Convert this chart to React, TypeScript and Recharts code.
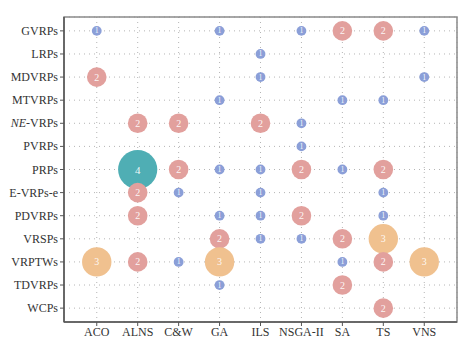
import React from "react";
import {
  ScatterChart,
  Scatter,
  XAxis,
  YAxis,
  CartesianGrid,
  ReferenceArea,
} from "recharts";

const methods = ["ACO", "ALNS", "C&W", "GA", "ILS", "NSGA-II", "SA", "TS", "VNS"];
const problems = [
  "GVRPs",
  "LRPs",
  "MDVRPs",
  "MTVRPs",
  "NE-VRPs",
  "PVRPs",
  "PRPs",
  "E-VRPs-e",
  "PDVRPs",
  "VRSPs",
  "VRPTWs",
  "TDVRPs",
  "WCPs",
];

// counts per problem row, per method column (0 = no bubble)
const GVRPs = [1, 0, 0, 1, 0, 1, 2, 2, 1];
const LRPs = [0, 0, 0, 0, 1, 0, 0, 0, 0];
const MDVRPs = [2, 0, 0, 0, 1, 0, 0, 0, 1];
const MTVRPs = [0, 0, 0, 1, 0, 0, 1, 1, 0];
const NEVRPs = [0, 2, 2, 0, 2, 1, 0, 0, 0];
const PVRPs = [0, 0, 0, 0, 0, 1, 0, 0, 0];
const PRPs = [0, 4, 2, 1, 1, 2, 1, 2, 0];
const EVRPse = [0, 2, 1, 0, 1, 0, 0, 1, 0];
const PDVRPs = [0, 2, 0, 1, 1, 2, 0, 1, 0];
const VRSPs = [0, 0, 0, 2, 1, 1, 2, 3, 0];
const VRPTWs = [3, 2, 1, 3, 0, 0, 1, 2, 3];
const TDVRPs = [0, 0, 0, 1, 0, 0, 2, 0, 0];
const WCPs = [0, 0, 0, 0, 0, 0, 0, 2, 0];

const rows = [GVRPs, LRPs, MDVRPs, MTVRPs, NEVRPs, PVRPs, PRPs, EVRPse, PDVRPs, VRSPs, VRPTWs, TDVRPs, WCPs];

const colorFor: Record<number, string> = {
  1: "#8b9fd8",
  2: "#e2a09d",
  3: "#f0c18f",
  4: "#4faeb4",
};

const points: { x: number; y: number; v: number }[] = [];
rows.forEach((row, ri) => {
  row.forEach((v, ci) => {
    if (v > 0) points.push({ x: ci + 1, y: ri + 1, v });
  });
});

const SERIF = "'Liberation Serif', 'DejaVu Serif', serif";

const Bubble = (props: any) => {
  const { cx, cy, payload } = props;
  if (cx == null || cy == null) return null;
  const v = payload.v as number;
  const r = v * 4.9;
  const fs = v === 1 ? 8 : v === 4 ? 11 : 10;
  return (
    <g>
      <circle cx={cx} cy={cy} r={r} fill={colorFor[v]} />
      <text
        x={cx}
        y={cy}
        textAnchor="middle"
        dominantBaseline="central"
        fontFamily={SERIF}
        fontSize={fs}
        fill="#ffffff"
        fillOpacity={0.92}
      >
        {v}
      </text>
    </g>
  );
};

const YTick = (props: any) => {
  const { x, y, payload } = props;
  const label = problems[payload.value - 1] ?? "";
  const italic = label.startsWith("NE-");
  return (
    <text
      x={x}
      y={y}
      textAnchor="end"
      dominantBaseline="central"
      fontFamily={SERIF}
      fontSize={12}
      fill="#333"
    >
      {italic ? (
        <>
          <tspan fontStyle="italic">NE</tspan>
          <tspan>{label.slice(2)}</tspan>
        </>
      ) : (
        label
      )}
    </text>
  );
};

const XTick = (props: any) => {
  const { x, y, payload } = props;
  const label = methods[payload.value - 1] ?? "";
  return (
    <text
      x={x}
      y={y + 8}
      textAnchor="middle"
      fontFamily={SERIF}
      fontSize={12}
      fill="#333"
    >
      {label}
    </text>
  );
};

export default function App() {
  return (
    <div style={{ position: "absolute", left: 0, top: 0, background: "#fff" }}>
      <ScatterChart
        width={474}
        height={352}
        margin={{ top: 17, right: 17, left: 0, bottom: 0 }}
      >
        <CartesianGrid stroke="#b5b5b5" strokeDasharray="1 4" />
        <ReferenceArea
          x1={0.2}
          x2={9.8}
          y1={0.4}
          y2={13.6}
          fill="none"
          stroke="#8a8a8a"
          strokeWidth={1.5}
          ifOverflow="visible"
        />
        <XAxis
          type="number"
          dataKey="x"
          domain={[0.2, 9.8]}
          ticks={[1, 2, 3, 4, 5, 6, 7, 8, 9]}
          allowDataOverflow
          height={30}
          tickSize={4}
          tickLine={{ stroke: "#555" }}
          axisLine={{ stroke: "#555", strokeWidth: 1.5 }}
          tick={<XTick />}
        />
        <YAxis
          type="number"
          dataKey="y"
          domain={[0.4, 13.6]}
          ticks={[1, 2, 3, 4, 5, 6, 7, 8, 9, 10, 11, 12, 13]}
          reversed
          allowDataOverflow
          width={64}
          tickSize={4}
          tickLine={{ stroke: "#555" }}
          axisLine={{ stroke: "#555", strokeWidth: 1.5 }}
          tick={<YTick />}
        />
        <Scatter
          data={points}
          shape={<Bubble />}
          isAnimationActive={false}
        />
      </ScatterChart>
    </div>
  );
}
